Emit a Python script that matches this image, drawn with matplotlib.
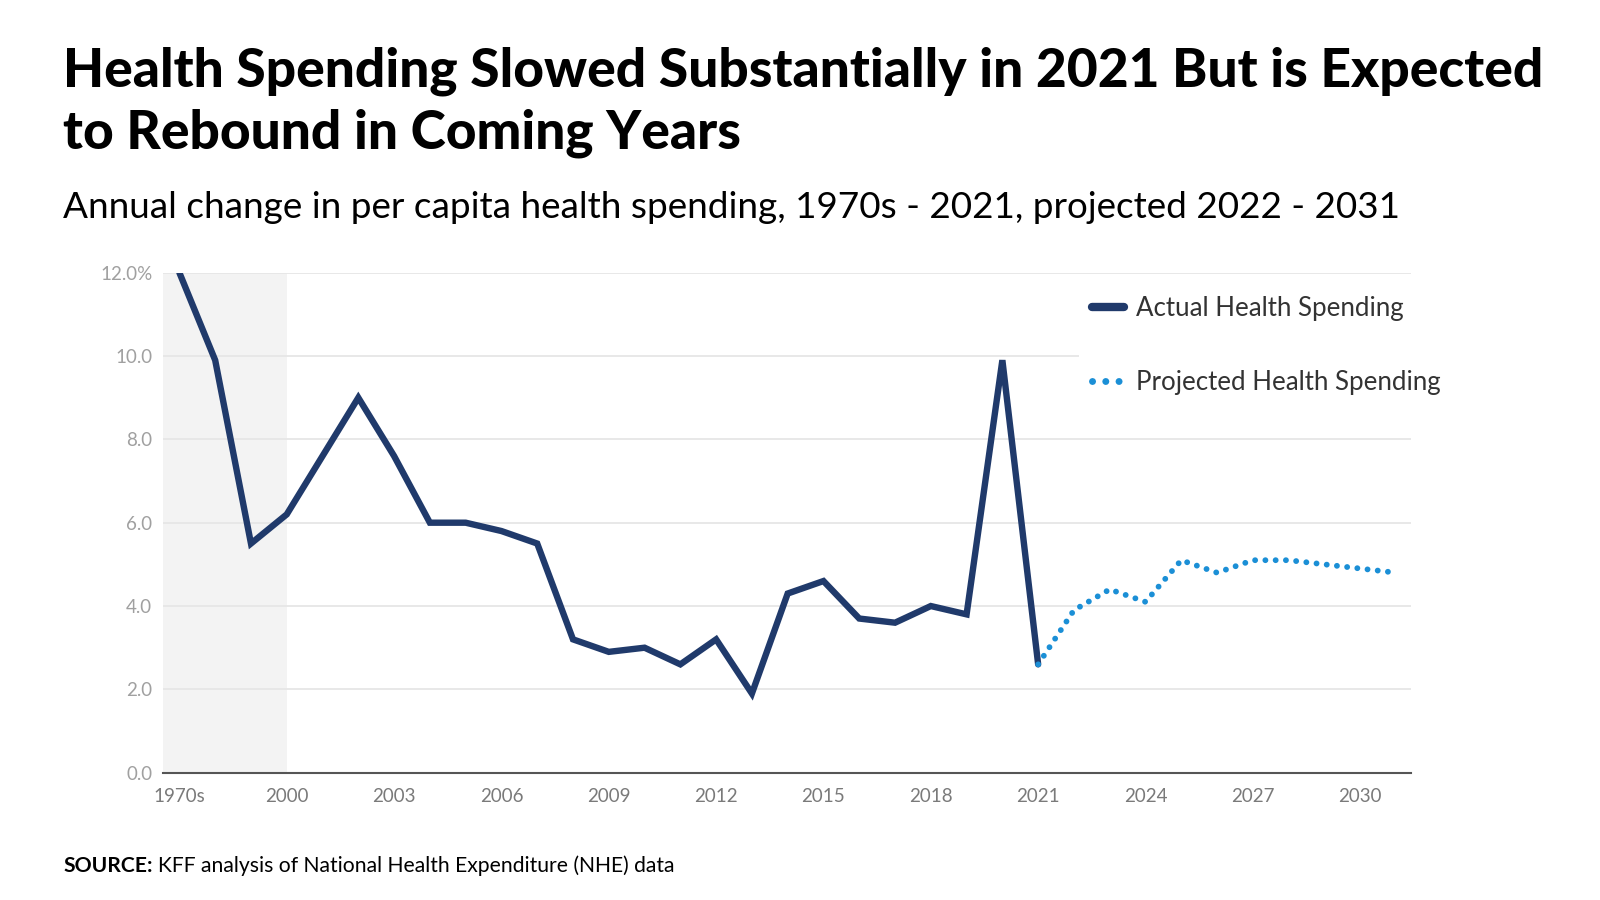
import matplotlib
matplotlib.use("Agg")
import matplotlib.pyplot as plt
from matplotlib.lines import Line2D

# data
categories = ["1970s", "1980s", "1990s"] + [str(y) for y in range(2000, 2032)]
actual_years = categories[:categories.index("2021") + 1]
actual_values = [12.0, 9.9, 5.5, 6.2, 7.6, 9.0, 7.6, 6.0, 6.0, 5.8, 5.5, 3.2, 2.9,
                 3.0, 2.6, 3.2, 1.9, 4.3, 4.6, 3.7, 3.6, 4.0, 3.8, 9.9, 2.6]
projected_years = [str(y) for y in range(2021, 2032)]
projected_values = [2.6, 3.9, 4.4, 4.1, 5.1, 4.8, 5.1, 5.1, 5.0, 4.9, 4.8]
tick_labels = ["1970s", "2000", "2003", "2006", "2009", "2012", "2015",
               "2018", "2021", "2024", "2027", "2030"]
y_ticks = [0, 2, 4, 6, 8, 10, 12]
y_tick_labels = ["0.0", "2.0", "4.0", "6.0", "8.0", "10.0", "12.0%"]

NAVY = "#203a6b"
BLUE = "#1b8fd6"
FONT = "Lato"

pos = {c: i for i, c in enumerate(categories)}

fig = plt.figure(figsize=(16, 9), dpi=100)
ax = fig.add_axes([163.3 / 1600, 1 - 772.7 / 900, (1411 - 163.3) / 1600, 500 / 900])

# shaded decade area
ax.axvspan(-0.45, pos["2000"], color="#f3f3f3", zorder=0, lw=0)

ax.plot([pos[c] for c in actual_years], actual_values, color=NAVY, lw=4.6,
        solid_joinstyle="miter", solid_capstyle="round", zorder=3)
ax.plot([pos[c] for c in projected_years], projected_values, color=BLUE, lw=4.2,
        linestyle=(0, (0.01, 1.75)), dash_capstyle="round", zorder=3)

ax.set_xlim(-0.45, 34.42)
ax.set_ylim(0, 12)
ax.set_xticks([pos[c] for c in tick_labels])
ax.set_xticklabels(tick_labels, fontfamily=FONT, fontsize=13.5, color="#7a7a7a")
ax.set_yticks(y_ticks)
ax.set_yticklabels(y_tick_labels, fontfamily=FONT, fontsize=13.5, color="#a0a0a0")
ax.tick_params(axis="both", length=0)
ax.tick_params(axis="x", pad=11)
ax.tick_params(axis="y", pad=8)
ax.grid(axis="y", color="#e6e6e6", lw=1.3, zorder=1)
ax.set_axisbelow(True)
for s in ["top", "right", "left"]:
    ax.spines[s].set_visible(False)
ax.spines["bottom"].set_color("#555555")
ax.spines["bottom"].set_linewidth(1.5)
ax.spines["bottom"].set_zorder(4)

handles = [
    Line2D([], [], color=NAVY, lw=6, solid_capstyle="round"),
    Line2D([], [], color=BLUE, lw=5, linestyle=(0, (0.01, 1.9)), dash_capstyle="round"),
]
leg = ax.legend(handles, ["Actual Health Spending", "Projected Health Spending"],
                loc="upper left", bbox_to_anchor=(1066 / 1600, 1 - 270 / 900),
                bbox_transform=fig.transFigure, frameon=True, facecolor="white",
                edgecolor="none", framealpha=1, fancybox=False,
                prop={"family": FONT, "size": 18.6}, labelcolor="#333333",
                handlelength=1.25, handletextpad=0.45, labelspacing=1.92, borderpad=0.5)
leg.set_zorder(5)

fig.text(63 / 1600, 1 - 87 / 900,
         "Health Spending Slowed Substantially in 2021 But is Expected",
         fontfamily=FONT, fontweight="black", fontsize=38.3, va="baseline", color="black")
fig.text(63 / 1600, 1 - 148 / 900, "to Rebound in Coming Years",
         fontfamily=FONT, fontweight="black", fontsize=38.3, va="baseline", color="black")
fig.text(63 / 1600, 1 - 218 / 900,
         "Annual change in per capita health spending, 1970s - 2021, projected 2022 - 2031",
         fontfamily=FONT, fontsize=26.6, va="baseline", color="black")

src = fig.text(63 / 1600, 1 - 872 / 900, "SOURCE:", fontfamily=FONT, fontweight="bold",
               fontsize=15.2, va="baseline", color="black")
renderer = fig.canvas.get_renderer()
bb = src.get_window_extent(renderer)
fig.text(bb.x1 / 1600 + 5 / 1600, 1 - 872 / 900,
         "KFF analysis of National Health Expenditure (NHE) data",
         fontfamily=FONT, fontsize=15.2, va="baseline", color="black")

fig.savefig("out.png", dpi=100, facecolor="white")
